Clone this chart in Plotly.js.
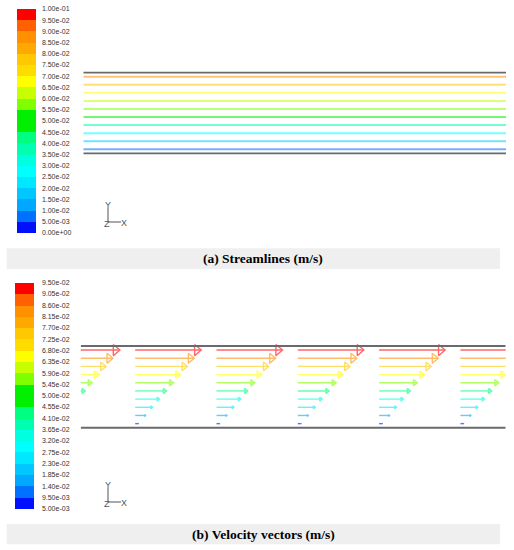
<!DOCTYPE html>
<html><head><meta charset="utf-8">
<script src="https://cdn.plot.ly/plotly-3.0.1.min.js"></script>
<style>html,body{margin:0;padding:0;background:#fff}#chart{width:514px;height:550px}</style>
</head><body><div id="chart"></div>
<script>
// Fluent-style 20-band colormap, bottom -> top
const bandColors = ['#0010ff','#0070ff','#00a8ff','#00c8ff','#00e8ff','#00ffff','#00ffe0','#00ffb0','#00ff80','#00f000',
                    '#00f000','#80ff00','#c8ff00','#ffff00','#ffdc00','#ffc800','#ffa800','#ff9000','#ff6000','#ff0000'];

// (a) streamlines colour scale
const tickValsA = [0,0.005,0.01,0.015,0.02,0.025,0.03,0.035,0.04,0.045,0.05,0.055,0.06,0.065,0.07,0.075,0.08,0.085,0.09,0.095,0.1];
const tickTextA = ['0.00e+00','5.00e-03','1.00e-02','1.50e-02','2.00e-02','2.50e-02','3.00e-02','3.50e-02','4.00e-02','4.50e-02','5.00e-02',
                   '5.50e-02','6.00e-02','6.50e-02','7.00e-02','7.50e-02','8.00e-02','8.50e-02','9.00e-02','9.50e-02','1.00e-01'];
// (b) velocity vectors colour scale
const tickValsB = [0.005,0.0095,0.014,0.0185,0.023,0.0275,0.032,0.0365,0.041,0.0455,0.05,0.0545,0.059,0.0635,0.068,0.0725,0.077,0.0815,0.086,0.0905,0.095];
const tickTextB = ['5.00e-03','9.50e-03','1.40e-02','1.85e-02','2.30e-02','2.75e-02','3.20e-02','3.65e-02','4.10e-02','4.55e-02','5.00e-02',
                   '5.45e-02','5.90e-02','6.35e-02','6.80e-02','7.25e-02','7.70e-02','8.15e-02','8.60e-02','9.05e-02','9.50e-02'];

// channel geometry (non-dimensional height 0..1, length units)
const channelLength = 5.2;
const wallY = [0, 1];
// streamlines: position and coloured value (top -> bottom)
const streamY   = [0.95,0.85,0.75,0.65,0.55,0.45,0.35,0.25,0.15,0.05];
const streamVal = [0.087,0.077,0.067,0.062,0.057,0.052,0.037,0.027,0.017,0.007];
// velocity vectors: row positions, velocities (m/s), column start positions
const vecY = [0.95,0.85,0.75,0.65,0.55,0.45,0.35,0.25,0.15,0.05];
const vecU = [0.095,0.085,0.075,0.065,0.055,0.045,0.035,0.025,0.015,0.005];
const vecX = [-0.33,0.67,1.67,2.67,3.67,4.67];
const vecLength = 5.227;

const W = 514, H = 550;
const px = x => x / W, py = y => 1 - y / H;

function colorscale() {
  const cs = [];
  bandColors.forEach((c, i) => { cs.push([i / 20, c]); cs.push([(i + 1) / 20, c]); });
  return cs;
}
function bandColor(v, cmin, cmax) {
  let i = Math.floor((v - cmin) / (cmax - cmin) * 20);
  i = Math.max(0, Math.min(19, i));
  return bandColors[i];
}

// axis pixel geometry
const domAx = [83.3 / W, 506 / W];
const domAy = [py(161.4), py(64.6)];
const domBx = [80.7 / W, 505.7 / W];
const domBy = [py(435.9), py(337.8)];
const pxPerXb = (505.7 - 80.7) / vecLength;
const pxPerYb = (435.9 - 337.8) / 1.2;
const VSCALE = 8.55; // x-units per m/s (vector scale)

const traces = [];
// streamlines
streamY.forEach((y, i) => {
  traces.push({type:'scatter', mode:'lines', x:[0, channelLength], y:[y, y], xaxis:'x', yaxis:'y',
    line:{color: bandColor(streamVal[i], 0, 0.1), width:2}, opacity:0.55, hoverinfo:'skip'});
});
// walls (a)
wallY.forEach(y => traces.push({type:'scatter', mode:'lines', x:[0, channelLength], y:[y, y], xaxis:'x', yaxis:'y',
  line:{color:'#6a6a6a', width:1.8}, hoverinfo:'skip'}));

// vectors
vecY.forEach((y, i) => {
  const xs = [], ys = [];
  const L = vecU[i] * VSCALE;
  const hl = 0.1 * L;
  const hw = 0.085 * L * pxPerXb / pxPerYb;
  vecX.forEach(x0 => {
    const x1 = x0 + L;
    xs.push(x0, x1, null, x1 - hl, x1, x1 - hl, x1 - hl, null);
    ys.push(y, y, null, y + hw, y, y - hw, y + hw, null);
  });
  traces.push({type:'scatter', mode:'lines', x:xs, y:ys, xaxis:'x2', yaxis:'y2',
    line:{color: bandColor(vecU[i], 0.005, 0.095), width:1.4}, opacity:0.6, hoverinfo:'skip'});
});
wallY.forEach(y => traces.push({type:'scatter', mode:'lines', x:[0, vecLength], y:[y, y], xaxis:'x2', yaxis:'y2',
  line:{color:'#6a6a6a', width:1.8}, hoverinfo:'skip'}));

// dummy traces carrying the colour bars
traces.push({type:'scatter', mode:'markers', x:[-10], y:[-10], xaxis:'x', yaxis:'y',
  marker:{color:[0.05], coloraxis:'coloraxis', opacity:0}, hoverinfo:'skip'});
traces.push({type:'scatter', mode:'markers', x:[-10], y:[-10], xaxis:'x2', yaxis:'y2',
  marker:{color:[0.05], coloraxis:'coloraxis2', opacity:0}, hoverinfo:'skip'});

const tickfont = {family:'Liberation Sans, Arial, sans-serif', size:7, color:'#333'};
function cbar(x, yTop, len, thick, gap, vals, text) {
  return {x:px(x), xanchor:'left', xpad:0, y:py(yTop), yanchor:'top', ypad:0,
    len:len, lenmode:'pixels', thickness:thick, thicknessmode:'pixels', outlinewidth:0,
    tickmode:'array', tickvals:vals, ticktext:text, ticks:'outside', ticklen:gap, tickcolor:'rgba(0,0,0,0)', tickfont:tickfont};
}

const axOff = {visible:false, fixedrange:true, showgrid:false, zeroline:false};
const triad = (dy) => [
  {type:'line', xref:'paper', yref:'paper', x0:px(108), y0:py(208 + dy), x1:px(108), y1:py(222 + dy), line:{color:'#555', width:1}},
  {type:'line', xref:'paper', yref:'paper', x0:px(108), y0:py(222 + dy), x1:px(121), y1:py(222 + dy), line:{color:'#555', width:1}}
];
const triadText = (dy) => [
  {text:'Y', x:px(107.7), y:py(205 + dy)},
  {text:'Z', x:px(107.3), y:py(223.5 + dy)},
  {text:'X', x:px(124.3), y:py(223 + dy)}
].map(a => Object.assign(a, {xref:'paper', yref:'paper', showarrow:false, xanchor:'center', yanchor:'middle',
  font:{family:'Liberation Sans, Arial, sans-serif', size:9, color:'#555'}}));

const layout = {
  width:W, height:H, margin:{l:0, r:0, t:0, b:0}, paper_bgcolor:'#fff', plot_bgcolor:'rgba(0,0,0,0)',
  showlegend:false,
  xaxis:Object.assign({domain:domAx, range:[0, channelLength], anchor:'y'}, axOff),
  yaxis:Object.assign({domain:domAy, range:[-0.1, 1.1], anchor:'x'}, axOff),
  xaxis2:Object.assign({domain:domBx, range:[0, vecLength], anchor:'y2'}, axOff),
  yaxis2:Object.assign({domain:domBy, range:[-0.1, 1.1], anchor:'x2'}, axOff),
  coloraxis:{cmin:0, cmax:0.1, colorscale:colorscale(), colorbar:cbar(17.3, 9, 224.3, 19.4, 5, tickValsA, tickTextA)},
  coloraxis2:{cmin:0.005, cmax:0.095, colorscale:colorscale(), colorbar:cbar(15, 282.7, 225.6, 19, 7, tickValsB, tickTextB)},
  shapes:[
    {type:'rect', xref:'paper', yref:'paper', x0:px(6.7), x1:px(500), y0:py(269), y1:py(248.3), fillcolor:'#efefef', line:{width:0}, layer:'below'},
    {type:'rect', xref:'paper', yref:'paper', x0:px(6.7), x1:px(500), y0:py(544.3), y1:py(524), fillcolor:'#efefef', line:{width:0}, layer:'below'}
  ].concat(triad(0), triad(280)),
  annotations:[
    {text:'<b>(a) Streamlines (m/s)</b>', x:px(263), y:py(258.7)},
    {text:'<b>(b) Velocity vectors (m/s)</b>', x:px(263), y:py(534.2)}
  ].map(a => Object.assign(a, {xref:'paper', yref:'paper', showarrow:false, xanchor:'center', yanchor:'middle',
    font:{family:'Liberation Serif, Times New Roman, serif', size:13.5, color:'#000'}})).concat(triadText(0), triadText(280))
};

Plotly.newPlot('chart', traces, layout, {displayModeBar:false, staticPlot:true});
</script>
</body></html>
